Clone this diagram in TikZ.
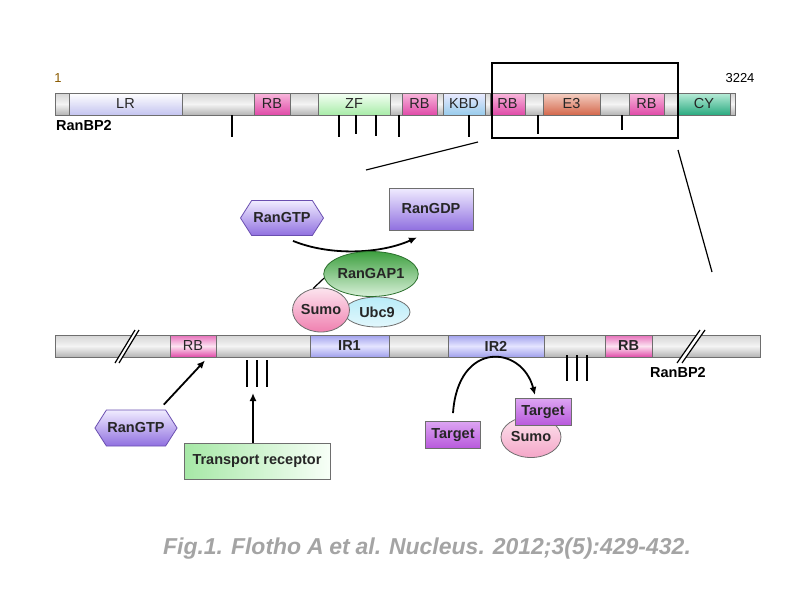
\documentclass[tikz,border=0pt]{standalone}
\usepackage{fontspec}
\setmainfont{Liberation Sans}
\usetikzlibrary{arrows.meta,shapes.geometric,shapes.symbols,calc}
\definecolor{edge}{HTML}{6E6E6E}
\definecolor{ink}{HTML}{262626}
\definecolor{greytop}{HTML}{D4D4D4}
\definecolor{greymid}{HTML}{F4F4F4}
\definecolor{greybot}{HTML}{B4B4B4}
\definecolor{lrblue}{HTML}{C4C4F0}
\definecolor{rbpink}{HTML}{F8B8DC}
\definecolor{rbmag}{HTML}{E04AA8}
\definecolor{zfgreen}{HTML}{A8ECA8}
\definecolor{kbdblue}{HTML}{98CCEC}
\definecolor{e3red}{HTML}{D4684C}
\definecolor{e3light}{HTML}{F4D0C4}
\definecolor{cyteal}{HTML}{2AAA80}
\definecolor{cylight}{HTML}{B8ECD8}
\definecolor{irblue}{HTML}{A0A0EC}
\definecolor{irlight}{HTML}{E4E4FF}
\definecolor{ranviolet}{HTML}{9070E0}
\definecolor{ranlight}{HTML}{F0ECFF}
\definecolor{ranedge}{HTML}{6A4FB0}
\definecolor{tgtviolet}{HTML}{B858DC}
\definecolor{tgtlight}{HTML}{DCA4F2}
\definecolor{sumopink}{HTML}{F080B0}
\definecolor{sumolight}{HTML}{FCE4EE}
\definecolor{ubccyan}{HTML}{B8ECF8}
\definecolor{gapgreen}{HTML}{3EA040}
\definecolor{gaplight}{HTML}{D8F0D8}
\definecolor{trgreen}{HTML}{A6E8A6}
\definecolor{capgrey}{HTML}{A4A4A4}
\definecolor{numbrown}{HTML}{8A5A00}
\tikzset{
  seg/.style={draw=edge,line width=0.9pt,minimum height=22,inner sep=0pt,font=\fontsize{14.5}{16}\selectfont,text=ink},
  greybar/.style={seg,top color=greytop,bottom color=greybot,middle color=greymid},
  lrseg/.style={seg,top color=white,bottom color=lrblue},
  rbseg/.style={seg,top color=rbpink,bottom color=rbmag},
  zfseg/.style={seg,top color=green!4,bottom color=zfgreen},
  kbdseg/.style={seg,top color=blue!8,bottom color=kbdblue},
  e3seg/.style={seg,top color=e3light,bottom color=e3red},
  cyseg/.style={seg,top color=cylight,bottom color=cyteal},
  rbcyl/.style={seg,top color=rbmag!80,bottom color=rbmag,middle color=rbpink!40},
  ircyl/.style={seg,top color=irblue,bottom color=irblue,middle color=irlight},
  bold/.style={font=\fontsize{14.5}{16}\selectfont\bfseries,text=ink},
  ranhex/.style={bold,signal,signal to=east and west,signal pointer angle=115,draw=ranedge,line width=0.8pt,top color=ranlight,bottom color=ranviolet,inner sep=1pt},
  gdpbox/.style={bold,draw=edge,line width=0.9pt,top color=ranlight,bottom color=ranviolet,minimum width=84,minimum height=42},
  tgtbox/.style={bold,draw=edge,line width=0.9pt,top color=tgtlight,bottom color=tgtviolet,minimum width=55,minimum height=27,inner sep=1pt},
  sumoblob/.style={bold,ellipse,draw=edge,line width=0.8pt,top color=sumolight,bottom color=sumopink,inner sep=0pt},
  tick/.style={line width=1.8pt},
  thin/.style={line width=1.2pt},
  arr/.style={-{Latex[length=8pt,width=7pt]},line width=1.8pt}
}
\begin{document}
\begin{tikzpicture}[x=1pt,y=-1pt]
\useasboundingbox (0,0) rectangle (800,600);
\node[font=\fontsize{13}{15}\selectfont,text=numbrown] (start) at (58,78) {1};
\node[font=\fontsize{13}{15}\selectfont] (stop) at (740,78) {3224};
\node[greybar,minimum width=680] (topbar) at (395,104) {};
\node[lrseg,minimum width=113] (lr) at (125.5,104) {LR};
\node[rbseg,minimum width=36] (rb1) at (272,104) {RB};
\node[zfseg,minimum width=72] (zf) at (354,104) {ZF};
\node[rbseg,minimum width=35] (rb2) at (419.5,104) {RB};
\node[kbdseg,minimum width=42] (kbd) at (464,104) {KBD};
\node[rbseg,minimum width=35] (rb3) at (507.5,104) {RB};
\node[e3seg,minimum width=57] (e3) at (571.5,104) {E3};
\node[rbseg,minimum width=35] (rb4) at (646.5,104) {RB};
\node[cyseg,minimum width=52] (cy) at (704,104) {CY};
\node[bold,text=black] (toplabel) at (84,126) {RanBP2};
\foreach \tx/\ty in {232/137,339/137,356/134,376/136,399/137,469/137,538/134,622/130}
  \draw[tick] (\tx,115) -- (\tx,\ty);
\draw[thin] (492,63) rectangle (678,138);
\draw[thin] (478,142) -- (366,170);
\draw[thin] (678,150) -- (712,272);

\node[ranhex,minimum width=83,minimum height=35] (rangtp) at (282,218) {RanGTP};
\node[gdpbox] (rangdp) at (431,209) {RanGDP};
\draw[arr] ($(rangtp.south)+(11,5)$) .. controls (330,256) and (380,254) .. ([xshift=-14pt,yshift=-7pt]rangdp.south);
\node[bold,ellipse,draw=edge,line width=0.8pt,top color=ubccyan,bottom color=ubccyan!40,minimum width=66,minimum height=30,inner sep=0pt] (ubc9) at (377,312) {Ubc9};
\node[bold,ellipse,draw=gapgreen!70!black,line width=0.8pt,top color=gapgreen,bottom color=gaplight,minimum width=92,minimum height=45,inner sep=0pt] (rangap1) at (371,274) {RanGAP1};
\node[sumoblob,minimum width=54,minimum height=44] (sumo) at (321,310) {Sumo};
\draw[thin] (sumo.110) -- (rangap1.185);

\node[greybar,minimum width=705] (botbar) at (407.5,346) {};
\node[rbcyl,minimum width=46] (rb5) at (193,346) {RB};
\node[ircyl,minimum width=79,font=\fontsize{14.5}{16}\selectfont\bfseries] (ir1) at (349.5,346) {IR1};
\node[ircyl,minimum width=96,font=\fontsize{14.5}{16}\selectfont\bfseries] (ir2) at (496,346) {IR2};
\node[rbcyl,minimum width=47,font=\fontsize{14.5}{16}\selectfont\bfseries] (rb6) at (628.5,346) {RB};
\fill[white] (115,363) -- (135,330) -- (139,330) -- (119,363) -- cycle;
\draw[thin] (115,363) -- (135,330) (119,363) -- (139,330);
\fill[white] (677,363) -- (700,330) -- (705,330) -- (682,363) -- cycle;
\draw[thin] (677,363) -- (700,330) (682,363) -- (705,330);
\node[bold,text=black] (botlabel) at (678,373) {RanBP2};
\foreach \tx in {247,257,267}
  \draw[thin] (\tx,360) -- (\tx,387);
\foreach \tx in {567,577,587}
  \draw[thin] (\tx,355) -- (\tx,381);

\node[ranhex,minimum width=82,minimum height=36] (rangtp2) at (136,428) {RanGTP};
\draw[arr] ([shift={(-2,-5)}]rangtp2.north east) -- ([xshift=12pt,yshift=-3pt]rb5.south);
\node[bold,draw=edge,line width=0.9pt,left color=trgreen,right color=green!3,minimum width=146,minimum height=36] (receptor) at (257,461) {Transport receptor};
\coordinate (site) at (253,393);
\draw[arr] (receptor.north -| site) -- (site);
\node[tgtbox] (target1) at (453,435) {Target};
\node[sumoblob,top color=sumolight,bottom color=sumopink!70,minimum width=60,minimum height=41] (sumo2) at (531,437) {\raisebox{-6pt}{Sumo}};
\node[tgtbox,minimum width=56] (target2) at (543,412) {Target};
\draw[arr] ([yshift=8pt]target1.north) .. controls (458,340) and (522,345) .. ([xshift=-8pt,yshift=3pt]target2.north);

\node[font=\fontsize{23}{26}\selectfont\bfseries\itshape,text=capgrey,inner sep=0pt] (caption) at (427,549) {\spaceskip=0.25em Fig.1. Flotho A et al. Nucleus. 2012;3(5):429-432.};
\end{tikzpicture}
\end{document}
